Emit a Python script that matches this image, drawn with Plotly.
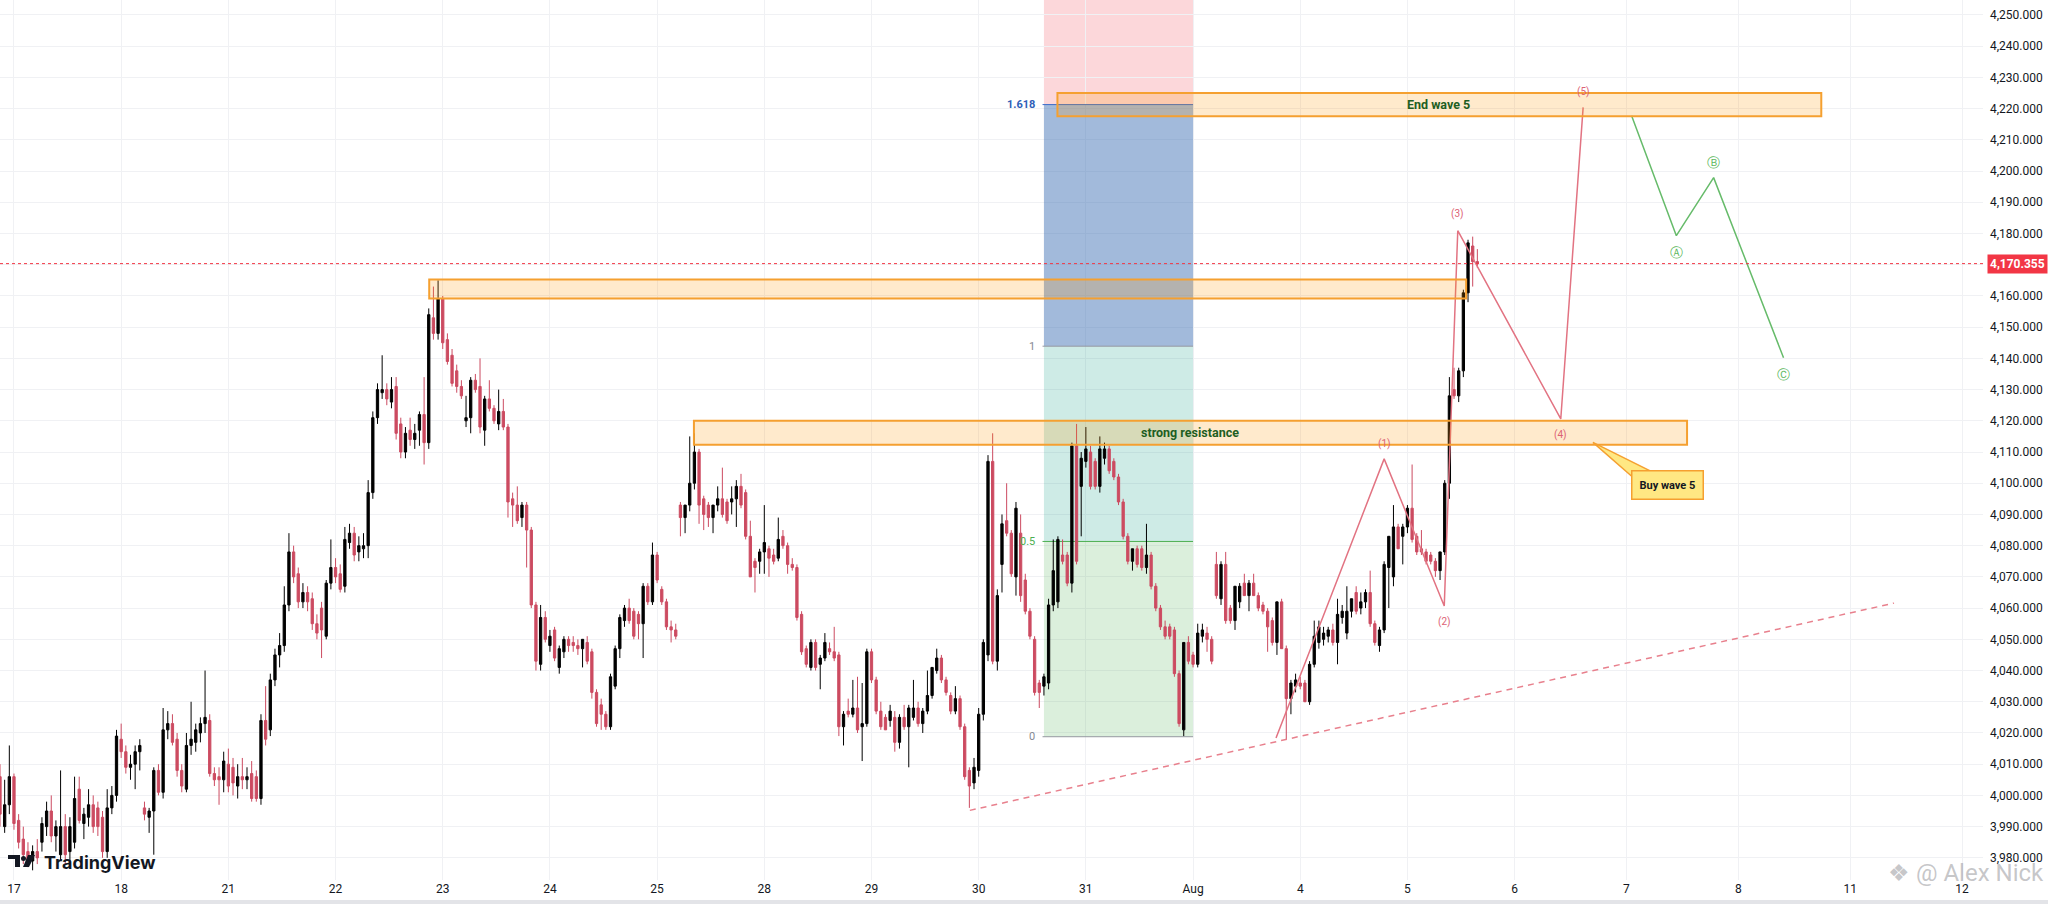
import plotly.graph_objects as go

# hourly bars, bar 0 = first bar of the "17" session
first_bar = -3

opens = [
    4006, 3990, 3997, 4006, 3992, 3986, 3982, 3979, 3982, 3985,
    3990, 3995, 3987, 3981, 3990, 3982, 3985, 4002, 3991, 3993,
    3997, 3996, 3993, 3982, 3996, 4000, 4018, 4014, 4009, 4010,
    4014, 3996, 3993, 3995, 4008, 4001, 4021, 4023, 4018, 4008,
    4002, 4016, 4017, 4020, 4023, 4024, 4007, 4006, 4005, 4010,
    4009, 4003, 4006, 4005, 4007, 4006, 3999, 4024, 4021, 4037,
    4045, 4048, 4061, 4078, 4071, 4062, 4065, 4063, 4055, 4060,
    4051, 4068, 4073, 4071, 4067, 4081, 4084, 4078, 4079, 4080,
    4097, 4121, 4129, 4130, 4126, 4131, 4119, 4110, 4117, 4114,
    4117, 4122, 4113, 4153, 4148, 4159, 4146, 4141, 4136, 4131,
    4120, 4121, 4133, 4131, 4117, 4127, 4124, 4119, 4123, 4118,
    4095, 4093, 4089, 4093, 4085, 4061, 4042, 4057, 4048, 4053,
    4041, 4046, 4050, 4049, 4048, 4047, 4049, 4046, 4033, 4029,
    4026, 4022, 4035, 4047, 4056, 4060, 4059, 4058, 4055, 4067,
    4062, 4077, 4066, 4062, 4054, 4053, 4093, 4089, 4093, 4100,
    4110, 4095, 4093, 4089, 4093, 4095, 4094, 4094, 4095, 4099,
    4097, 4083, 4075, 4075, 4078, 4079, 4077, 4076, 4083, 4080,
    4074, 4073, 4058, 4047, 4041, 4049, 4042, 4044, 4047, 4046,
    4045, 4022, 4027, 4026, 4028, 4022, 4023, 4046, 4037, 4027,
    4025, 4024, 4025, 4017, 4025, 4022, 4025, 4028, 4023, 4027,
    4032, 4040, 4044, 4037, 4032, 4027, 4031, 4022, 4008, 4004,
    4008, 4026, 4045, 4107, 4043, 4074, 4088, 4084, 4070, 4084,
    4069, 4059, 4050, 4036, 4035, 4036, 4061, 4062, 4077, 4077,
    4068, 4112, 4099, 4107, 4110, 4107, 4099, 4108, 4111, 4107,
    4102, 4094, 4083, 4075, 4079, 4079, 4073, 4077, 4067, 4060,
    4054, 4054, 4053, 4039, 4021, 4049, 4045, 4042, 4051, 4052,
    4050, 4074, 4063, 4074, 4060, 4056, 4062, 4068, 4064, 4068,
    4064, 4061, 4059, 4056, 4049, 4062, 4047, 4031, 4035, 4036,
    4036, 4030, 4042, 4049, 4050, 4051, 4053, 4049, 4057, 4052,
    4059, 4065, 4060, 4062, 4065, 4055, 4048, 4053, 4073, 4070,
    4086, 4083, 4086, 4092, 4083, 4079, 4078, 4077, 4075, 4072,
    4078, 4100, 4130, 4128, 4136, 4161, 4176, 4171,
]
highs = [
    4010, 4005, 4016, 4007, 3994, 3990, 3985, 3984, 3986, 3993,
    3998, 4000, 3992, 4008, 3994, 3993, 4006, 4006, 3996, 4002,
    4000, 3998, 3995, 4002, 4003, 4021, 4023, 4016, 4013, 4016,
    4018, 3998, 3996, 4009, 4010, 4028, 4027, 4026, 4020, 4010,
    4020, 4030, 4023, 4025, 4040, 4026, 4009, 4009, 4014, 4015,
    4012, 4010, 4012, 4009, 4011, 4008, 4026, 4035, 4039, 4047,
    4052, 4067, 4084, 4080, 4073, 4068, 4067, 4065, 4058, 4062,
    4069, 4082, 4076, 4074, 4086, 4087, 4086, 4083, 4084, 4101,
    4123, 4132, 4141, 4132, 4134, 4134, 4121, 4118, 4121, 4119,
    4123, 4134, 4156, 4163, 4165, 4160, 4148, 4143, 4138, 4133,
    4128, 4134, 4135, 4140, 4128, 4133, 4125, 4130, 4127, 4119,
    4097, 4099, 4094, 4094, 4086, 4062, 4061, 4059, 4053, 4054,
    4048, 4051, 4051, 4051, 4050, 4050, 4051, 4047, 4034, 4031,
    4027, 4039, 4048, 4058, 4061, 4063, 4060, 4059, 4068, 4068,
    4081, 4078, 4067, 4063, 4056, 4055, 4094, 4093, 4115, 4116,
    4111, 4096, 4094, 4093, 4099, 4105, 4095, 4099, 4101, 4103,
    4098, 4088, 4076, 4079, 4093, 4080, 4079, 4089, 4085, 4081,
    4076, 4074, 4059, 4048, 4050, 4050, 4045, 4052, 4049, 4054,
    4046, 4027, 4031, 4037, 4038, 4036, 4047, 4047, 4038, 4030,
    4026, 4029, 4027, 4026, 4029, 4029, 4037, 4030, 4028, 4040,
    4041, 4047, 4045, 4038, 4033, 4035, 4032, 4023, 4009, 4012,
    4028, 4050, 4109, 4116, 4066, 4090, 4100, 4085, 4094, 4090,
    4071, 4060, 4051, 4037, 4039, 4063, 4082, 4083, 4082, 4078,
    4113, 4119, 4110, 4118, 4112, 4108, 4115, 4113, 4112, 4108,
    4103, 4095, 4084, 4079, 4080, 4080, 4087, 4078, 4068, 4061,
    4056, 4055, 4054, 4040, 4049, 4051, 4046, 4055, 4055, 4054,
    4051, 4078, 4075, 4078, 4061, 4067, 4068, 4071, 4069, 4071,
    4065, 4062, 4060, 4057, 4062, 4063, 4048, 4037, 4039, 4038,
    4037, 4043, 4056, 4056, 4054, 4054, 4055, 4063, 4061, 4067,
    4063, 4067, 4065, 4066, 4072, 4056, 4054, 4075, 4083, 4093,
    4087, 4087, 4093, 4106, 4084, 4085, 4079, 4078, 4076, 4078,
    4101, 4134, 4137, 4137, 4162, 4178, 4179, 4175,
]
lows = [
    3990, 3988, 3994, 3989, 3983, 3978, 3977, 3976, 3978, 3982,
    3987, 3985, 3982, 3979, 3978, 3979, 3983, 3991, 3986, 3990,
    3988, 3987, 3980, 3980, 3994, 3998, 4012, 4007, 4005, 4002,
    4008, 3992, 3988, 3981, 4000, 3999, 4018, 4016, 4006, 4001,
    4001, 4013, 4014, 4017, 4020, 4006, 4003, 3997, 4001, 4001,
    4000, 3999, 4002, 4002, 3998, 3998, 3997, 4016, 4019, 4035,
    4041, 4046, 4059, 4068, 4060, 4060, 4059, 4053, 4050, 4044,
    4050, 4066, 4068, 4065, 4065, 4079, 4075, 4075, 4076, 4076,
    4095, 4119, 4127, 4125, 4124, 4114, 4108, 4108, 4112, 4111,
    4112, 4106, 4111, 4146, 4146, 4143, 4138, 4131, 4129, 4127,
    4118, 4116, 4129, 4116, 4112, 4123, 4119, 4117, 4117, 4089,
    4086, 4087, 4086, 4073, 4060, 4040, 4040, 4049, 4046, 4043,
    4039, 4044, 4046, 4046, 4045, 4041, 4042, 4031, 4022, 4021,
    4021, 4021, 4034, 4044, 4054, 4055, 4050, 4050, 4044, 4061,
    4061, 4068, 4061, 4053, 4049, 4050, 4083, 4084, 4091, 4098,
    4087, 4085, 4086, 4084, 4091, 4089, 4087, 4090, 4086, 4092,
    4082, 4070, 4065, 4071, 4071, 4070, 4074, 4075, 4079, 4071,
    4072, 4056, 4045, 4041, 4040, 4040, 4034, 4043, 4045, 4043,
    4019, 4016, 4025, 4025, 4020, 4011, 4022, 4036, 4026, 4021,
    4021, 4022, 4014, 4015, 4021, 4009, 4024, 4022, 4020, 4026,
    4031, 4039, 4036, 4032, 4026, 4026, 4021, 4005, 3996, 4002,
    4006, 4024, 4043, 4042, 4040, 4065, 4083, 4070, 4064, 4062,
    4058, 4050, 4032, 4028, 4032, 4034, 4059, 4060, 4074, 4067,
    4065, 4074, 4083, 4105, 4098, 4098, 4097, 4106, 4103, 4101,
    4093, 4082, 4074, 4072, 4073, 4072, 4071, 4066, 4059, 4053,
    4050, 4050, 4038, 4022, 4019, 4042, 4041, 4041, 4049, 4046,
    4042, 4063, 4061, 4055, 4055, 4053, 4060, 4064, 4059, 4064,
    4059, 4058, 4046, 4048, 4045, 4047, 4018, 4026, 4033, 4034,
    4030, 4029, 4041, 4047, 4048, 4049, 4048, 4042, 4055, 4050,
    4057, 4058, 4058, 4060, 4054, 4048, 4046, 4052, 4060, 4067,
    4079, 4074, 4084, 4081, 4077, 4077, 4074, 4074, 4070, 4069,
    4077, 4095, 4127, 4126, 4134, 4158, 4163, 4169,
]
closes = [
    3994, 3997, 4006, 3991, 3985, 3981, 3979, 3982, 3980, 3991,
    3995, 3987, 3990, 3990, 3981, 3990, 3999, 3992, 3994, 3997,
    3990, 3990, 3982, 3996, 4000, 4019, 4014, 4009, 4010, 4014,
    4016, 3994, 3995, 4008, 4001, 4021, 4023, 4017, 4008, 4003,
    4016, 4018, 4021, 4023, 4025, 4007, 4005, 4005, 4011, 4003,
    4004, 4006, 4005, 4006, 3999, 3999, 4024, 4018, 4037, 4045,
    4048, 4061, 4078, 4070, 4062, 4065, 4062, 4055, 4052, 4053,
    4068, 4073, 4070, 4066, 4082, 4084, 4077, 4080, 4080, 4097,
    4121, 4130, 4130, 4127, 4130, 4116, 4110, 4116, 4114, 4116,
    4122, 4113, 4154, 4148, 4159, 4145, 4139, 4132, 4131, 4128,
    4121, 4133, 4130, 4118, 4127, 4124, 4120, 4123, 4118, 4094,
    4093, 4088, 4093, 4085, 4061, 4043, 4057, 4050, 4051, 4044,
    4047, 4050, 4048, 4048, 4047, 4050, 4043, 4033, 4023, 4026,
    4022, 4038, 4047, 4057, 4060, 4056, 4051, 4055, 4067, 4062,
    4077, 4069, 4062, 4054, 4053, 4051, 4089, 4093, 4100, 4110,
    4093, 4090, 4089, 4093, 4095, 4090, 4088, 4095, 4099, 4093,
    4083, 4070, 4073, 4078, 4081, 4076, 4075, 4082, 4080, 4074,
    4073, 4057, 4046, 4042, 4049, 4041, 4044, 4049, 4046, 4044,
    4022, 4026, 4026, 4028, 4021, 4023, 4046, 4037, 4027, 4022,
    4021, 4027, 4017, 4025, 4022, 4028, 4028, 4023, 4027, 4032,
    4041, 4044, 4037, 4033, 4027, 4031, 4022, 4006, 4003, 4009,
    4026, 4049, 4107, 4043, 4064, 4087, 4084, 4071, 4092, 4064,
    4059, 4051, 4033, 4033, 4038, 4061, 4072, 4082, 4075, 4068,
    4112, 4075, 4108, 4111, 4099, 4099, 4111, 4111, 4104, 4102,
    4094, 4083, 4075, 4079, 4074, 4073, 4077, 4067, 4060, 4054,
    4051, 4051, 4039, 4023, 4049, 4043, 4042, 4052, 4053, 4050,
    4043, 4064, 4074, 4056, 4056, 4067, 4067, 4064, 4068, 4064,
    4060, 4059, 4054, 4049, 4062, 4047, 4031, 4036, 4037, 4035,
    4030, 4042, 4051, 4054, 4052, 4053, 4049, 4058, 4059, 4059,
    4063, 4059, 4062, 4065, 4055, 4049, 4053, 4074, 4083, 4086,
    4079, 4086, 4092, 4082, 4078, 4078, 4075, 4075, 4072, 4078,
    4100, 4128, 4128, 4136, 4161, 4177, 4171, 4170.355,
]
bars = list(range(first_bar, first_bar + len(closes)))
last_price = closes[-1]

day_ticks = [0, 23, 46, 69, 92, 115, 138, 161, 184, 207, 230, 253, 276, 299, 322, 346, 370, 394, 418]
day_labels = ["17", "18", "21", "22", "23", "24", "25", "28", "29", "30", "31", "Aug",
              "4", "5", "6", "7", "8", "11", "12"]

# drawings (bar index, price)
zones = [
    (89.1, 311.6, 4159.2, 4165.3, ""),
    (145.9, 359.0, 4112.3, 4120.0, "strong resistance"),
    (223.9, 387.8, 4217.6, 4225.0, "End wave 5"),
]
zone_text_x = [0, 252.4, 305.7]

fib_x = [221.0, 253.0]
fib_zero = 4018.8
fib_one = 4143.9
fib_ext = 4221.3

wave_x = [270.8, 294.0, 306.9, 309.8, 331.9, 336.7]
wave_y = [4018.4, 4107.8, 4060.7, 4180.9, 4120.6, 4220.4]
wave_labels = ["(1)", "(2)", "(3)", "(4)", "(5)"]
wave_label_y = [4112.6, 4055.6, 4186.2, 4115.6, 4225.4]

abc_x = [347.1, 356.7, 364.7, 379.7]
abc_y = [4217.7, 4179.3, 4197.9, 4140.2]
abc_labels = ["Ⓐ", "Ⓑ", "Ⓒ"]
abc_label_y = [4173.8, 4202.6, 4134.8]

trend_x = [205.1, 403.4]
trend_y = [3995.2, 4061.6]

buy_point = (338.8, 4113.1)

y_min, y_max = 3972.9, 4254.8
red = "#cc4b61"
orange = "#f5a030"
wave_pink = "#e27382"
abc_green = "#66bb6a"
font = "Roboto"

fig = go.Figure()

fig.add_trace(go.Candlestick(
    x=bars, open=opens, high=highs, low=lows, close=closes,
    increasing=dict(line=dict(color="#000000", width=1), fillcolor="#000000"),
    decreasing=dict(line=dict(color=red, width=1), fillcolor=red),
    whiskerwidth=0,
))

fig.add_trace(go.Scatter(x=trend_x, y=trend_y, mode="lines",
                         line=dict(color="#e8808d", width=1.5, dash="6px,5px")))
fig.add_trace(go.Scatter(x=wave_x, y=wave_y, mode="lines",
                         line=dict(color=wave_pink, width=1.5)))
fig.add_trace(go.Scatter(x=abc_x, y=abc_y, mode="lines",
                         line=dict(color=abc_green, width=1.5)))

shapes = []
# fib / projection blocks
shapes.append(dict(type="rect", xref="x", yref="paper", x0=fib_x[0], x1=fib_x[1],
                   y0=(fib_ext - y_min) / (y_max - y_min), y1=1,
                   fillcolor="rgba(242,54,69,0.2)", line_width=0, layer="between"))
shapes.append(dict(type="rect", x0=fib_x[0], x1=fib_x[1], y0=fib_one, y1=fib_ext,
                   fillcolor="rgba(60,110,180,0.48)", line_width=0, layer="between"))
fib_half = (fib_zero + fib_one) / 2
shapes.append(dict(type="rect", x0=fib_x[0], x1=fib_x[1], y0=fib_half, y1=fib_one,
                   fillcolor="rgba(8,153,129,0.2)", line_width=0, layer="between"))
shapes.append(dict(type="rect", x0=fib_x[0], x1=fib_x[1], y0=fib_zero, y1=fib_half,
                   fillcolor="rgba(76,175,80,0.2)", line_width=0, layer="between"))
for lvl, col in [(fib_ext, "#3c6cc8"), (fib_one, "#9598a1"), (fib_half, "#4caf50"), (fib_zero, "#9598a1")]:
    shapes.append(dict(type="line", x0=fib_x[0] - 0.3, x1=fib_x[1], y0=lvl, y1=lvl,
                       line=dict(color=col, width=1), layer="between"))

# supply / demand zones
for x0, x1, y0, y1, _ in zones:
    shapes.append(dict(type="rect", x0=x0, x1=x1, y0=y0, y1=y1,
                       fillcolor="rgba(255,152,0,0.2)", line=dict(color=orange, width=2),
                       layer="above"))

# last price line
shapes.append(dict(type="line", xref="paper", x0=0, x1=1, y0=last_price, y1=last_price,
                   line=dict(color="#f23645", width=1, dash="dot")))

# callout pointer
shapes.append(dict(type="path",
                   path=f"M {buy_point[0]},{buy_point[1]} L 347.6,4101.6 L 351.4,4103.7 Z",
                   fillcolor="#ffe883", line=dict(color=orange, width=1.5), layer="above"))

# TradingView logo mark (paper coords of plot area 1983x880 px)
def px(x, y):
    return x / 1983, 1 - y / 880

lx0, ly0 = px(8, 855)
lx1, ly1 = px(20, 859)
shapes.append(dict(type="rect", xref="paper", yref="paper", x0=lx0, x1=lx1, y0=ly1, y1=ly0,
                   fillcolor="#131722", line_width=0))
sx0, sy0 = px(15, 855)
sx1, sy1 = px(20, 867)
shapes.append(dict(type="rect", xref="paper", yref="paper", x0=sx0, x1=sx1, y0=sy1, y1=sy0,
                   fillcolor="#131722", line_width=0))
cx0, cy0 = px(21, 856)
cx1, cy1 = px(26, 861)
shapes.append(dict(type="circle", xref="paper", yref="paper", x0=cx0, x1=cx1, y0=cy1, y1=cy0,
                   fillcolor="#131722", line_width=0))
p = [px(28, 855), px(35, 855), px(29, 867), px(23, 867)]
shapes.append(dict(type="path", xref="paper", yref="paper",
                   path="M {} {} L {} {} L {} {} L {} {} Z".format(*[v for pt in p for v in pt]),
                   fillcolor="#131722", line_width=0))
# bottom strip
shapes.append(dict(type="rect", xref="paper", yref="paper", x0=0, x1=2048 / 1983,
                   y0=1 - 904 / 880, y1=1 - 900 / 880, fillcolor="#e3e4e8", line_width=0))

annotations = []
for tx, (_, _, y0, y1, txt) in zip(zone_text_x, zones):
    if txt:
        annotations.append(dict(x=tx, y=(y0 + y1) / 2, text=f"<b>{txt}</b>", showarrow=False,
                                font=dict(family=font, size=12.5, color="#1e5e22")))

for lbl, lx, ly in zip(wave_labels, wave_x[1:], wave_label_y):
    annotations.append(dict(x=lx, y=ly, text=lbl, showarrow=False,
                            font=dict(family=font, size=10, color="#dc6274")))
for lbl, lx, ly in zip(abc_labels, abc_x[1:], abc_label_y):
    annotations.append(dict(x=lx, y=ly, text=lbl, showarrow=False,
                            font=dict(family="DejaVu Sans", size=13, color="#5cb860")))

for lvl, txt, col in [(fib_ext, "<b>1.618</b>", "#2f5fb8"), (fib_one, "1", "#868993"),
                      (fib_half, "0.5", "#4caf50"), (fib_zero, "0", "#868993")]:
    annotations.append(dict(x=fib_x[0] - 1.4, y=lvl, text=txt, showarrow=False, xanchor="right",
                            font=dict(family=font, size=11, color=col)))

annotations.append(dict(x=354.7, y=4099.4, text="<b>Buy wave 5</b>", showarrow=False,
                        bgcolor="#ffe883", bordercolor=orange, borderwidth=1.5, borderpad=7,
                        font=dict(family=font, size=11, color="#131722")))

annotations.append(dict(xref="paper", x=1, xanchor="left", xshift=4, y=last_price,
                        text="<b>4,170.355</b>", showarrow=False, bgcolor="#f23645",
                        borderpad=2, font=dict(family=font, size=12, color="#ffffff")))

annotations.append(dict(xref="paper", yref="paper", x=42 / 1983, y=1 - 862 / 880,
                        xanchor="left", yanchor="middle", text="<b>TradingView</b>",
                        showarrow=False, font=dict(family="Inter", size=18, color="#131722")))
annotations.append(dict(xref="paper", yref="paper", x=2046 / 1983, y=1 - 873 / 880,
                        xanchor="right", yanchor="middle", text="❖ @ Alex Nick",
                        showarrow=False, font=dict(family=font, size=24, color="rgba(150,150,155,0.55)")))

fig.update_layout(
    width=2048, height=904,
    margin=dict(l=0, r=65, t=0, b=24),
    plot_bgcolor="#ffffff", paper_bgcolor="#ffffff",
    showlegend=False,
    shapes=shapes,
    annotations=annotations,
    xaxis=dict(
        range=[-3.0, 422.5], rangeslider=dict(visible=False),
        tickvals=day_ticks, ticktext=day_labels, ticks="",
        showgrid=True, gridcolor="#f0f1f4", gridwidth=1, zeroline=False,
        tickfont=dict(family=font, size=12, color="#131722"),
        showline=False, fixedrange=True,
    ),
    yaxis=dict(
        side="right", range=[y_min, y_max], dtick=10, tick0=0,
        tickformat=",.3f", ticks="", ticklabelstandoff=6,
        showgrid=True, gridcolor="#f0f1f4", gridwidth=1, zeroline=False,
        tickfont=dict(family=font, size=12, color="#131722"),
        showline=False,
    ),
)

fig.write_html("out.html", config={"displayModeBar": False},
               post_script="document.body.style.margin='0';document.body.style.overflow='hidden';")
